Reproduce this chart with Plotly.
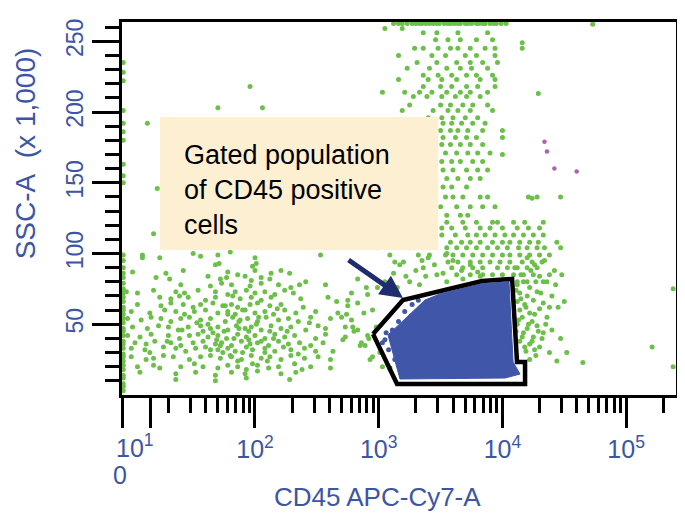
import plotly.graph_objects as go

# ---------------- data ----------------
# CD45 APC-Cy7-A given in log10 decades, SSC-A in thousands
left_cluster = [
    (1.09,99),(1.23,97),(1.50,100),(1.56,98),(1.70,99),(1.80,101),(2.00,97),(2.53,99),
    (1.68,92),(1.71,93),(1.98,91),(2.01,93),
    (1.01,87),(1.28,86),(1.42,88),(1.78,87),(1.86,85),(2.00,88),(2.13,86),(2.21,88),(2.28,86),
    (1.20,83),(1.31,82),(1.62,84),(1.72,82),(1.77,83),(1.92,84),(1.97,81),(2.05,83),(2.12,82),
    (1.40,78),(1.64,77),(1.73,79),(1.81,78),(1.96,77),(2.05,79),(2.19,78),(2.29,76),(2.36,78),(2.41,80),(2.57,78),
    (0.96,73),(1.05,72),(1.18,74),(1.36,73),(1.43,72),(1.54,74),(1.68,73),(1.78,71),(1.84,73),(1.93,74),(2.00,72),
    (2.08,73),(2.16,71),(2.24,74),(2.31,72),
    (1.23,69),(1.32,68),(1.39,70),(1.46,69),(1.60,67),(1.68,69),(1.82,70),(1.88,68),(1.97,69),(2.05,67),(2.13,69),
    (2.37,68),(2.59,69),(2.75,67),
    (1.05,64),(1.24,63),(1.32,65),(1.42,64),(1.50,62),(1.56,64),(1.66,65),(1.74,63),(1.81,64),(1.86,62),(1.96,64),
    (2.02,65),(2.12,63),(2.21,64),(2.39,62),(2.75,63),(2.83,65),
    (1.00,59),(1.15,58),(1.27,60),(1.36,59),(1.43,57),(1.51,59),(1.60,60),(1.70,58),(1.78,59),(1.84,57),(1.90,60),
    (2.00,58),(2.08,59),(2.15,57),(2.24,60),(2.33,58),(2.49,59),
    (0.97,54),(1.08,53),(1.16,55),(1.24,54),(1.32,52),(1.40,54),(1.47,55),(1.56,53),(1.64,54),(1.76,52),(1.82,55),
    (1.88,53),(1.94,54),(2.02,52),(2.09,55),(2.19,53),(2.27,54),(2.35,52),(2.45,55),(2.61,54),(2.78,53),
    (1.01,48),(1.13,47),(1.22,49),(1.30,48),(1.38,46),(1.46,48),(1.56,49),(1.64,47),(1.70,48),(1.78,46),(1.85,49),
    (1.92,47),(1.97,48),(2.05,46),(2.13,49),(2.21,47),(2.29,48),(2.41,46),(2.51,49),(2.57,47),(2.73,48),(2.83,46),
    (0.97,42),(1.07,41),(1.16,43),(1.30,42),(1.39,40),(1.47,42),(1.54,43),(1.62,41),(1.70,42),(1.77,40),(1.86,43),
    (1.93,41),(2.00,42),(2.08,40),(2.16,43),(2.24,41),(2.32,42),(2.49,40),(2.57,43),(2.73,41),
    (1.03,37),(1.12,36),(1.19,38),(1.32,37),(1.40,35),(1.50,37),(1.58,38),(1.68,36),(1.73,37),(1.81,35),(1.89,38),
    (1.96,36),(2.02,37),(2.11,35),(2.19,38),(2.27,36),(2.36,37),(2.45,35),(2.86,37),
    (1.00,33),(1.11,32),(1.26,34),(1.36,33),(1.44,31),(1.52,33),(1.60,34),(1.70,32),(1.78,33),(1.84,31),(1.93,34),
    (1.98,32),(2.08,33),(2.16,31),(2.23,34),(2.29,32),(2.40,33),(2.49,31),
    (1.00,27),(1.18,26),(1.26,28),(1.34,27),(1.47,25),(1.56,27),(1.64,28),(1.72,26),(1.81,27),(1.89,25),(1.97,28),
    (2.05,26),(2.12,27),(2.21,25),(2.29,28),(2.40,26),(2.51,27),(2.61,25),
    (1.05,20),(1.18,21),(1.23,19),(1.40,20),(1.51,22),(1.58,20),(1.70,19),(1.78,21),(1.86,20),(1.93,18),(2.02,21),
    (2.11,19),(2.19,20),(2.32,22),(2.45,20),(2.61,19),
    (1.07,16),(1.36,15),(1.52,16),(1.68,14),(1.81,16),(1.92,15),(2.02,17),(2.21,15),(2.33,16),
    (1.36,11),(1.68,10),(1.93,12),(2.28,11),
    (1.75,45),(1.83,40),(1.90,30),(1.95,45),(1.80,28),(2.05,38),(1.72,35),(1.87,52),(2.08,30),(1.66,44),
    (1.98,22),(2.12,45),(1.78,57),(1.62,50),(1.92,60),(1.86,24),(2.01,50),(1.74,30),(1.69,39),(2.15,40),
    (1.58,45),(1.87,47),(2.03,55),(1.76,63),(2.18,61),(1.64,32),(1.95,39),(2.10,24),(1.53,51),(2.26,45),
    (1.41,46),(2.35,29),(1.29,38),(2.44,51),(1.15,30),(2.55,37),(2.67,58),(2.63,31),(1.12,25),(2.38,18),
    (1.13,192),(1.70,203),(1.96,218),(2.06,203),(1.18,114),(1.09,97),(1.21,146),
]

left_of_gate = [
    (2.70,55),(2.88,58),(2.80,45),(2.92,40),(2.85,35),(2.95,60),(2.78,72),(2.66,66),(2.90,76),(2.98,48),
    (2.91,71),(2.99,76),(3.15,76),(3.17,92),(3.35,95),(3.12,86),(2.91,42),(2.89,35),(2.93,25),(3.01,30),
    (2.74,57),(2.79,48),(2.95,27),(3.03,20),(2.71,39),(3.05,80),(3.22,84),(2.83,82),
]

column_cluster = [
    (3.05,259),(3.19,259),
    (3.36,256),(3.47,256),(3.64,256),(3.88,256),
    (3.46,251),(3.56,251),(3.66,251),(3.79,251),(3.92,251),(4.16,249),
    (3.29,245),(3.36,245),(3.48,245),(3.58,245),(3.64,245),(3.74,245),(3.86,245),(3.94,245),
    (3.16,240),(3.43,240),(3.54,240),(3.70,240),(3.79,240),(3.94,240),
    (3.31,235),(3.47,235),(3.63,235),(3.74,235),(3.84,235),(3.96,235),
    (3.23,231),(3.41,231),(3.55,231),(3.66,231),(3.75,231),(3.88,231),
    (3.36,226),(3.48,226),(3.59,226),(3.71,226),(3.79,226),(3.92,226),
    (3.16,223),(3.40,223),(3.51,223),(3.63,223),(3.82,223),(3.94,223),
    (3.36,218),(3.50,218),(3.59,218),(3.71,218),(3.80,218),(3.94,218),
    (3.03,214),(3.21,214),(3.33,214),(3.43,214),(3.55,214),(3.66,214),(3.74,214),(3.88,214),(4.29,213),
    (3.28,211),(3.39,211),(3.51,211),(3.62,211),(3.71,211),(3.82,211),
    (3.25,205),(3.50,205),(3.58,205),(3.68,205),(3.76,205),(3.88,205),
    (3.19,201),(3.44,201),(3.56,201),(3.64,201),(3.74,201),(3.92,201),
    (3.40,196),(3.51,196),(3.60,196),(3.70,196),(3.80,196),
    (3.52,192),(3.59,192),(3.67,192),(3.76,192),(3.86,192),
    (3.50,187),(3.58,187),(3.64,187),(3.72,187),(3.84,187),(4.00,187),
    (3.52,182),(3.62,182),(3.71,182),(3.79,182),(4.00,182),
    (3.51,177),(3.58,177),(3.66,177),(3.74,177),(3.84,177),
    (3.54,171),(3.63,171),(3.72,171),(3.80,171),(3.90,171),(4.00,170),
    (3.51,165),(3.59,165),(3.66,165),(3.76,165),(3.84,165),
    (3.52,159),(3.60,159),(3.71,159),(3.80,159),(3.88,159),
    (3.55,153),(3.64,153),(3.74,153),(3.82,153),
    (3.52,147),(3.59,147),(3.71,147),
    (3.54,140),(3.60,140),(3.68,140),(3.82,140),(3.88,140),(4.21,140),(4.28,140),(4.47,140),(4.24,139),
    (3.50,133),(3.63,133),(3.74,133),(3.84,133),(3.94,133),
    (3.55,127),(3.66,127),(3.72,127),
    (3.55,122),(3.68,122),(3.79,122),(3.92,122),(3.96,122),(4.09,122),(4.18,122),(4.33,122),
    (3.51,118),(3.59,118),(3.70,118),(3.82,118),(3.90,118),(4.00,118),(4.12,118),(4.21,118),(4.30,118),
    (3.51,113),(3.62,113),(3.72,113),(3.79,113),(3.86,113),(3.94,113),(4.02,113),(4.09,113),(4.17,113),(4.25,113),(4.33,113),
    (3.58,108),(3.67,108),(3.74,108),(3.82,108),(3.92,108),(4.00,108),(4.06,108),(4.14,108),(4.22,108),(4.29,108),(4.44,108),
    (2.99,104),(3.25,104),(3.55,104),(3.63,104),(3.71,104),(3.79,104),(3.88,104),(3.96,104),(4.04,104),(4.13,104),
    (4.20,104),(4.28,104),(4.34,104),(4.47,104),
    (3.09,99),(3.32,99),(3.41,99),(3.54,99),(3.60,99),(3.68,99),(3.76,99),(3.84,99),(3.92,99),(4.00,99),(4.06,99),
    (4.14,99),(4.22,99),(4.30,99),(4.38,99),
    (3.13,94),(3.20,94),(3.56,94),(3.64,94),(3.74,94),(3.82,94),(3.90,94),(3.98,94),(4.06,94),(4.16,94),(4.24,94),(4.32,94),
    (3.36,90),(3.59,90),(3.68,90),(3.76,90),(3.84,90),(3.96,90),(4.04,90),(4.12,90),(4.20,90),(4.28,90),
    (3.47,85),(3.63,85),(3.74,85),(3.84,85),(3.92,85),(4.00,85),(4.09,85),(4.17,85),(4.25,85),(4.38,85),
    (3.55,80),(3.68,82),(3.82,84),(4.12,80),(4.20,80),(4.33,80),
    (3.30,88),(3.38,84),(3.45,92),(3.52,86),(3.60,95),(3.67,88),(3.74,92),(3.80,87),(3.55,100),(3.40,97),(3.25,80),(3.33,78),
]

right_of_gate = [
    (4.12,78),(4.17,80),(4.22,76),(4.14,72),(4.20,70),(4.28,73),(4.12,66),(4.18,64),(4.25,67),(4.33,65),
    (4.14,60),(4.22,58),(4.30,61),(4.16,55),(4.24,52),(4.36,55),(4.12,50),(4.20,47),(4.28,49),(4.17,44),
    (4.25,41),(4.33,44),(4.14,38),(4.22,36),(4.30,34),(4.19,31),(4.27,28),(4.38,30),(4.22,25),(4.44,24),
    (4.15,85),(4.23,88),(4.30,84),(4.36,80),(4.26,92),(4.10,90),(4.40,70),(4.45,62),(4.40,46),(4.52,30),
    (4.65,23),(5.21,34),(5.38,20),(5.38,75),(4.47,40),(4.34,95),(4.20,97),(4.42,88),(4.16,245),(4.73,262),
    (4.11,74),(4.15,68),(4.19,62),(4.26,57),(4.13,53),(4.21,50),(4.29,45),(4.16,41),(4.24,38),(4.32,40),
    (4.18,34),(4.26,32),(4.11,45),(4.35,50),(4.31,72),(4.27,80),(4.38,62),(4.43,78),(4.48,85),(4.50,66),
]

top_edge_ssc = 262.5
top_edge_cd45 = [3.12,3.16,3.19,3.23,3.27,3.30,3.33,3.35,3.38,3.41,3.44,3.47,3.49,3.53,3.56,3.58,3.61,3.64,
                 3.66,3.70,3.72,3.75,3.79,3.81,3.84,3.86,3.90,3.93,3.95,3.99,4.03]

left_edge_cd45 = 0.935
left_edge_ssc = [3,6,8,12,14,18,21,24,27,29,33,36,38,42,45,47,51,54,57,60,62,66,69,72,75,79,83,86,90,95,99,
                 150,155,163,180,186,192,201,222,228,235]

other_events_cd45 = [4.34, 4.36, 4.42, 4.60]      # magenta events
other_events_ssc = [179, 172, 160, 158]

# gated CD45+ population (real CD45 units, SSC-A thousands)
gate_cd45 = [900, 1571, 6840, 11970, 13120, 15240, 15240, 1406, 900]
gate_ssc = [43.1, 67.1, 80.6, 82.0, 23.3, 23.3, 7.8, 7.8, 43.1]
core_cd45 = [1189, 1791, 2366, 3131, 6840, 11300, 12190, 13870, 10500, 1486, 1306, 1189]
core_ssc = [42.4, 57.5, 67.1, 71.4, 78.6, 80.0, 23.3, 14.8, 12.0, 11.3, 28.3, 42.4]
core_sparse = [(3.05,39),(3.11,46),(3.16,52),(3.21,59),(3.27,64),(3.13,35),(3.08,32),(3.03,37),
               (3.17,46),(3.23,53),(3.13,25),(3.09,19),(3.32,67),(3.19,39),(3.06,44),(3.14,30)]

x_major_vals = [8.45, 14.2, 100, 1000, 10000, 100000]
x_major_text = ["", "", "10<sup>2</sup>", "10<sup>3</sup>", "10<sup>4</sup>", "10<sup>5</sup>"]
y_major_vals = [50, 100, 150, 200, 250]
y_major_text = ["50", "100", "150", "200", "250"]

# ---------------- figure ----------------
GREEN = "#6cc04a"
BLUE_POP = "#4056a8"
BLUE_TXT = "#3c55a5"
FONT = "Liberation Sans, Arial, sans-serif"

green_pts = left_cluster + left_of_gate + column_cluster + right_of_gate
gx = [10 ** e for e, _ in green_pts] + [10 ** e for e in top_edge_cd45] + [10 ** left_edge_cd45] * len(left_edge_ssc)
gy = [s for _, s in green_pts] + [top_edge_ssc] * len(top_edge_cd45) + left_edge_ssc

fig = go.Figure()
fig.add_trace(go.Scatter(x=gx, y=gy, mode="markers",
                         marker=dict(color=GREEN, size=5, line=dict(width=0)), hoverinfo="skip"))
fig.add_trace(go.Scatter(x=[10 ** e for e in other_events_cd45], y=other_events_ssc, mode="markers",
                         marker=dict(color="#b060b0", size=4.5, line=dict(width=0)), hoverinfo="skip"))
fig.add_trace(go.Scatter(x=core_cd45, y=core_ssc, mode="lines", fill="toself",
                         fillcolor=BLUE_POP, line=dict(color=BLUE_POP, width=1), hoverinfo="skip"))
fig.add_trace(go.Scatter(x=[10 ** e for e, _ in core_sparse], y=[s for _, s in core_sparse], mode="markers",
                         marker=dict(color=BLUE_POP, size=5, line=dict(width=0)), hoverinfo="skip"))
fig.add_trace(go.Scatter(x=gate_cd45, y=gate_ssc, mode="lines",
                         line=dict(color="black", width=4.5), hoverinfo="skip"))

minor_x = [k * 10 ** n for n in range(1, 5) for k in range(2, 10)] + [200000]
minor_y = [v for v in range(10, 261, 10) if v % 50 != 0]

fig.update_layout(
    width=685, height=520,
    margin=dict(l=114, r=17, t=14, b=133),
    paper_bgcolor="white", plot_bgcolor="white",
    showlegend=False,
    font=dict(family=FONT, color=BLUE_TXT),
    xaxis=dict(
        type="log", range=[0.925, 5.403],
        tickmode="array", tickvals=x_major_vals, ticktext=x_major_text,
        ticks="outside", ticklen=30, tickwidth=2.5, tickcolor="black",
        tickfont=dict(size=25, color=BLUE_TXT, family=FONT),
        showline=True, linewidth=3, linecolor="black", mirror=True,
        showgrid=False, zeroline=False, layer="below traces",
        minor=dict(tickmode="array", tickvals=minor_x, ticks="outside", ticklen=15,
                   tickwidth=2.5, tickcolor="black", showgrid=False),
    ),
    yaxis=dict(
        range=[0, 263.6],
        tickmode="array", tickvals=y_major_vals, ticktext=y_major_text,
        ticks="outside", ticklen=27, tickwidth=2.5, tickcolor="black",
        tickangle=-90, tickfont=dict(size=23, color=BLUE_TXT, family=FONT),
        showline=True, linewidth=3, linecolor="black", mirror=True,
        showgrid=False, zeroline=False, layer="below traces",
        minor=dict(tickmode="array", tickvals=minor_y, ticks="outside", ticklen=14,
                   tickwidth=2.5, tickcolor="black", showgrid=False),
    ),
    shapes=[dict(type="rect", xref="paper", yref="paper", x0=0.0687, x1=0.571, y0=0.389, y1=0.745,
                 fillcolor="#fdf0d2", line=dict(width=0), layer="above")],
    annotations=[
        dict(text="Gated population<br>of CD45 positive<br>cells", xref="paper", yref="paper",
             x=0.1085, y=0.69, xanchor="left", yanchor="top", align="left", showarrow=False,
             font=dict(size=27, color="black", family=FONT)),
        dict(text="", x=3.196, y=68.6, ax=2.744, ay=96.1, xref="x", yref="y", axref="x", ayref="y",
             showarrow=True, arrowhead=2, arrowsize=0.9, arrowwidth=5, arrowcolor="#1f2c6e", standoff=0),
        dict(text="10<sup>1</sup>", xref="x", yref="paper", x=1.03, y=-0.137, showarrow=False,
             xanchor="center", yanchor="middle", font=dict(size=25, color=BLUE_TXT, family=FONT)),
        dict(text="0", xref="paper", yref="paper", x=-0.004, y=-0.2145, showarrow=False,
             xanchor="center", yanchor="middle", font=dict(size=25, color=BLUE_TXT, family=FONT)),
        dict(text="CD45 APC-Cy7-A", xref="paper", yref="paper", x=0.461, y=-0.273, showarrow=False,
             xanchor="center", yanchor="middle", font=dict(size=26, color=BLUE_TXT, family=FONT)),
        dict(text="SSC-A\u00a0\u00a0(x 1,000)", xref="paper", yref="paper", x=-0.175, y=0.648,
             showarrow=False, textangle=-90, xanchor="center", yanchor="middle",
             font=dict(size=28, color=BLUE_TXT, family=FONT)),
    ],
)

fig.write_html("out.html")
